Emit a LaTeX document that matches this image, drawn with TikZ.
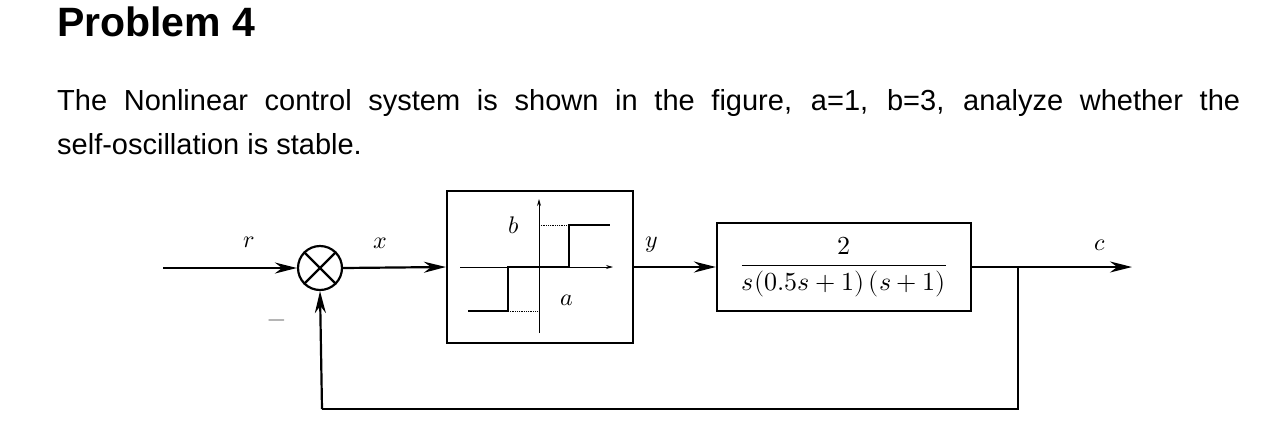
\documentclass[tikz,border=0pt]{standalone}
\usepackage{fontspec}
\setmainfont{Liberation Sans}
\usepackage{unicode-math}
\setmathfont{Latin Modern Math}
\usetikzlibrary{arrows.meta}
\begin{document}
\begin{tikzpicture}[x=1pt,y=-1pt,
  blk/.style={draw,line width=2.2pt},
  sig/.style={line width=2.2pt,-{Stealth[length=22pt,width=11pt]}},
  wire/.style={line width=2.2pt},
  thin/.style={line width=0.8pt},
  lbl/.style={font=\fontsize{24}{30}\selectfont}]
\useasboundingbox (0,0) rectangle (1265,432);
\node[anchor=west,font=\bfseries\fontsize{41}{46}\selectfont,inner sep=0pt] (title) at (57,22) {Problem 4};
\node[anchor=north west,text width=1183pt,align=justify,inner sep=0pt,
  font=\fontsize{29}{44}\selectfont] (txt) at (57,89)
  {The Nonlinear control system is shown in the figure, a=1, b=3, analyze whether the \mbox{self-oscillation} is stable.};
% blocks
\node[blk,minimum width=186pt,minimum height=152pt,inner sep=0pt] (nl) at (540,267) {};
\node[blk,minimum width=254pt,minimum height=88pt,inner sep=0pt] (g) at (844,267) {};
\node at (g.center) {\fontsize{26}{30}\selectfont$\dfrac{2}{s(0.5s+1)\,(s+1)}$};
\node[draw,wire,circle,minimum size=44pt,inner sep=0pt] (sum) at (320,268) {};
\draw[wire] (sum.45) -- (sum.225) (sum.135) -- (sum.315);
% nonlinearity
\coordinate (hl) at (460,267); \coordinate (hr) at (613,267);
\coordinate (vb) at (539,333); \coordinate (vt) at (539,199);
\draw[thin,-{Stealth[length=7pt,width=4pt]}] (hl) -- (hr);
\draw[thin,-{Stealth[length=7pt,width=4pt]}] (vb) -- (vt);
\draw[line width=2.4pt] (468,311) -- (508,311) -- (508,267) -- (569,267) -- (569,225) -- (610,225);
\draw[thin,densely dotted] (539,225) -- (569,225) (508,311) -- (539,311);
\node[lbl] (lb) at (514,225) {$b$};
\node[lbl] (la) at (567,300) {$a$};
% signals
\coordinate (in) at (163,268);
\coordinate (out) at (1132,267);
\coordinate (br) at (1018,267);
\coordinate (bl) at (1018,409);
\coordinate (bc) at (322,409);
\draw[sig] (in) -- (sum.west);
\draw[sig] (sum.east) -- (nl.west);
\draw[sig] (nl.east) -- (g.west);
\draw[sig] (g.east) -- (out);
\draw[wire] (br) -- (bl) -- (bc);
\draw[sig] (bc) -- (sum.south);
\node[lbl] (r) at (249,242) {$r$};
\node[lbl] (x) at (380,243) {$x$};
\node[lbl] (y) at (652,245) {$y$};
\node[lbl] (c) at (1100,245) {$c$};
\node[lbl,text=black!60] (m) at (277,323) {$-$};
\end{tikzpicture}
\end{document}
